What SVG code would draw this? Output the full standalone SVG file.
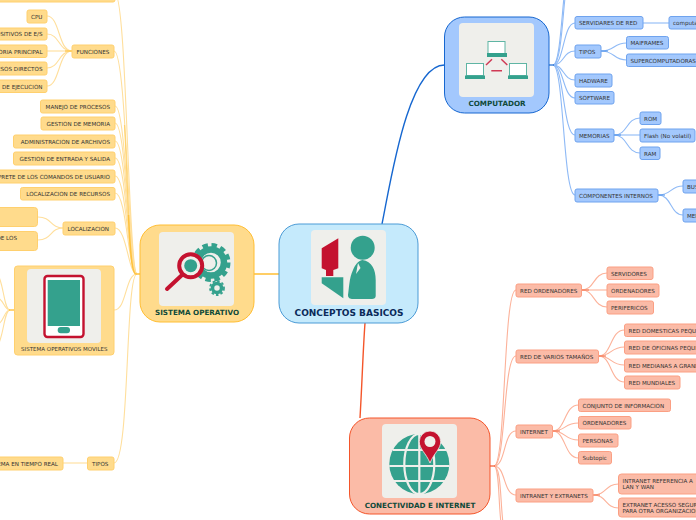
<svg xmlns="http://www.w3.org/2000/svg" width="696" height="520" viewBox="0 0 696 520">
<style>
text{font-family:"DejaVu Sans",Verdana,sans-serif;font-size:5.6px;fill:#333}
.c{fill:none;stroke-width:1.1}
.co{stroke:#ffdf9c}.cb{stroke:#8fbaf6}.cs{stroke:#fcb29a}
.o{fill:#ffdb8c;stroke:#ffd06e;stroke-width:1}
.b{fill:#a3c8fd;stroke:#6fa3ee;stroke-width:1}
.s{fill:#fbbba7;stroke:#fb9f83;stroke-width:1}
.ic{fill:#efefeb}
.t{fill:#34a18d}.r{fill:#c4122f}
.big{font-weight:bold;font-size:7.200px;fill:#0f4a3a;text-anchor:middle}
.e{text-anchor:end}
</style>
<g id="connectors">
<path class="c" style="stroke:#ffc23e;stroke-width:1.6" d="M254 274H279"/>
<path class="c" style="stroke:#1667d0;stroke-width:1.4" d="M382 224C391 180 408 65 444.500 65"/>
<path class="c" style="stroke:#f4552a;stroke-width:1.4" d="M365 323C363 350 362 385 360 418"/>
<path class="c co" d="M137 274C128 274 127 -6 115 -6"/>
<path class="c co" d="M137 274C128 274 127 51 114 51"/>
<path class="c co" d="M137 274C128 274 127 106 115 106"/>
<path class="c co" d="M137 274C128 274 127 123 115 123"/>
<path class="c co" d="M137 274C128 274 127 141 115 141"/>
<path class="c co" d="M137 274C128 274 127 158 115 158"/>
<path class="c co" d="M137 274C128 274 127 176 115 176"/>
<path class="c co" d="M137 274C128 274 127 193 115 193"/>
<path class="c co" d="M137 274C128 274 127 228 115 228"/>
<path class="c co" d="M137 274C125 274 127 310 114 310"/>
<path class="c co" d="M137 274C125 274 130 463 114 463"/>
<path class="c" style="stroke:#ffc23e;stroke-width:1.600" d="M140 274H136C132 274 130 250 128.500 215"/>
<path class="c" style="stroke:#ffd36f;stroke-width:1.200" d="M128.500 215C127.500 190 126 150 124.500 125"/>
<path class="c co" d="M72 51C58 51 60 16 47 16"/>
<path class="c co" d="M72 51C58 51 60 34 47 34"/>
<path class="c co" d="M72 51H47"/>
<path class="c co" d="M72 51C58 51 60 68 47 68"/>
<path class="c co" d="M72 51C58 51 60 86 47 86"/>
<path class="c" style="stroke:#ffc23e" d="M72 51H65"/>
<path class="c co" d="M63 228C50 228 52 217 38 217"/>
<path class="c co" d="M63 228C50 228 52 240 38 240"/>
<path class="c co" d="M87.500 463H63"/>
<path class="c co" d="M10 310C4 310 4 285 -2 275"/>
<path class="c co" d="M10 310C4 310 4 300 -2 298"/>
<path class="c co" d="M10 310C4 310 4 322 -2 324"/>
<path class="c co" d="M10 310C4 310 4 335 -2 345"/>
<path class="c" style="stroke:#ffc23e;stroke-width:1.4" d="M14.500 310H9"/>
<path class="c cb" d="M553 65C562 65 562 -20 570 -40"/>
<path class="c cb" d="M553 65C563 65 563 -10 568 -20"/>
<path class="c cb" d="M553 65C564 65 563 23 575 23"/>
<path class="c cb" d="M553 65C564 65 563 51 575 51"/>
<path class="c cb" d="M553 65C564 65 563 80 575 80"/>
<path class="c cb" d="M553 65C564 65 563 98 575 98"/>
<path class="c cb" d="M553 65C564 65 563 135 575 135"/>
<path class="c cb" d="M553 65C564 65 563 195 575 195"/>
<path class="c" style="stroke:#1667d0;stroke-width:1.200" d="M549 65H554"/>
<path class="c cb" d="M643 23H669"/>
<path class="c cb" d="M601 51C615 51 613 43 626.500 43"/>
<path class="c cb" d="M601 51C615 51 613 60 626.500 60"/>
<path class="c cb" d="M614 135C628 135 626 118 640 118"/>
<path class="c cb" d="M614 135H640"/>
<path class="c cb" d="M614 135C628 135 626 153 640 153"/>
<path class="c cb" d="M658 195C672 195 670 186 683 186"/>
<path class="c cb" d="M658 195C672 195 670 215 683 215"/>
<path class="c" style="stroke:#4c8fe8" d="M601 51H608M614 135H621M658 195H665"/>
<path class="c cs" d="M494 466C506 466 503 290 516 290"/>
<path class="c cs" d="M494 466C506 466 503 356 516 356"/>
<path class="c cs" d="M494 466C506 466 503 431 516 431"/>
<path class="c cs" d="M494 466C506 466 503 495 516 495"/>
<path class="c cs" d="M494 466C502 466 500 510 504 530"/>
<path class="c cs" d="M494 466C500 466 498 510 502 530"/>
<path class="c" style="stroke:#f4552a;stroke-width:1.2" d="M490 466H495"/>
<path class="c cs" d="M581.500 290C595 290 593 273 607 273"/>
<path class="c cs" d="M581.500 290H607"/>
<path class="c cs" d="M581.500 290C595 290 593 307 607 307"/>
<path class="c cs" d="M598.500 356C612 356 610 330 624.500 330"/>
<path class="c cs" d="M598.500 356C612 356 610 347 624.500 347"/>
<path class="c cs" d="M598.500 356C612 356 610 365 624.500 365"/>
<path class="c cs" d="M598.500 356C612 356 610 382 624.500 382"/>
<path class="c cs" d="M552.500 431C566 431 564 405 578.500 405"/>
<path class="c cs" d="M552.500 431C566 431 564 423 578.500 423"/>
<path class="c cs" d="M552.500 431C566 431 564 440 578.500 440"/>
<path class="c cs" d="M552.500 431C566 431 564 458 578.500 458"/>
<path class="c cs" d="M593 495C607 495 605 484 618.500 484"/>
<path class="c cs" d="M593 495C607 495 605 508 618.500 508"/>
<path class="c" style="stroke:#f4704a" d="M581.500 290H589M598.500 356H606M552.500 431H560M593 495H600"/>
</g>

<g id="n-concepts">
<rect x="279" y="224" width="139" height="99" rx="20" fill="#c5eafc" stroke="#4b9bd6"/>
<rect class="ic" x="311" y="230" width="75" height="75" rx="4"/>
<path class="r" d="M321.700 248.300L338.300 238.300V268.300L333.300 270V276H326V270L321.700 268.300Z"/>
<path class="t" d="M321.700 277.300H343.300V298.300L321.700 283.300Z"/>
<circle class="t" cx="362.700" cy="247.700" r="12"/>
<path class="t" d="M362.300 260C372 261 375.700 270 375.700 280V296C375.700 298 374 299 372 299H353C350 299 348 298 348 295C349 290 349 278 353 270C355 265 358 261 362.300 260Z"/>
<path d="M358 263L356 274L360.500 268Z" fill="#efefeb"/>
<text class="big" x="349" y="316" style="font-size:9px;fill:#0b2a5a">CONCEPTOS BASICOS</text>
</g>

<g id="n-sistema">
<rect x="140" y="225" width="114" height="97" rx="20" fill="#ffdb8c" stroke="#ffbe33"/>
<rect class="ic" x="159" y="232" width="75" height="74" rx="4"/>
<circle cx="211" cy="262.500" r="13" fill="none" stroke="#34a18d" stroke-width="6.500"/>
<circle cx="211" cy="262.500" r="17.500" fill="none" stroke="#34a18d" stroke-width="4" stroke-dasharray="5.500 3.660"/>
<circle cx="209" cy="263" r="7.500" fill="none" stroke="#34a18d" stroke-width="1.500"/>
<circle cx="217" cy="288" r="4.500" fill="none" stroke="#34a18d" stroke-width="3.500"/>
<circle cx="217" cy="288" r="7" fill="none" stroke="#34a18d" stroke-width="1.800" stroke-dasharray="2.600 2.100"/>
<circle cx="190.700" cy="265.700" r="11.500" fill="#efefeb" stroke="#c4122f" stroke-width="4"/>
<circle class="t" cx="190.700" cy="265.700" r="6.500"/>
<path d="M182 275L167 289" stroke="#c4122f" stroke-width="4" stroke-linecap="round"/>
<text class="big" x="197" y="315">SISTEMA OPERATIVO</text>
</g>

<g id="n-computador">
<rect x="444.500" y="17" width="104.500" height="96" rx="20" fill="#a3c8fd" stroke="#1667d0"/>
<rect class="ic" x="459" y="23" width="75" height="74" rx="4"/>
<g fill="#fff" stroke="#5fb5a4" stroke-width="1">
<rect x="488" y="41.500" width="17" height="12"/><rect x="466.500" y="63.500" width="17" height="12"/><rect x="509.500" y="63.500" width="17" height="12"/>
</g>
<rect class="t" x="487" y="53" width="20" height="4"/><rect class="t" x="465" y="75.500" width="20" height="3.500"/><rect class="t" x="508" y="75.500" width="20" height="3.500"/>
<path d="M486 65L492 59.300M507.300 65L501.300 59.300M491.300 70.700H502" stroke="#d03a55" stroke-width="1.500" fill="none"/>
<text class="big" x="497" y="106">COMPUTADOR</text>
</g>

<g id="n-conectividad">
<rect x="349.500" y="418" width="140.500" height="96" rx="20" fill="#fbbba7" stroke="#f4552a"/>
<rect class="ic" x="382" y="424" width="75" height="74" rx="4"/>
<circle class="t" cx="419.300" cy="464" r="30"/>
<g fill="none" stroke="#efefeb" stroke-width="2.200">
<ellipse cx="419.300" cy="464" rx="15" ry="30"/>
<path d="M419.300 434V494M389.300 466H449.300M393 450H446M393 481H446"/>
</g>
<path class="r" d="M430 463C426 453 419.300 449 419.300 441.700A10.700 10.700 0 0 1 440.700 441.700C440.700 449 434 453 430 463Z" stroke="#efefeb" stroke-width=".8"/>
<circle cx="430" cy="441.500" r="5.500" fill="#efefeb"/>
<text class="big" x="420" y="508">CONECTIVIDAD E INTERNET</text>
</g>

<g id="n-moviles">
<rect class="o" x="14.500" y="266" width="99.500" height="89" rx="3"/>
<rect class="ic" x="27" y="269" width="74" height="74" rx="4"/>
<rect x="44.500" y="276" width="39" height="61" rx="3" fill="#fff" stroke="#c4122f" stroke-width="2.400"/>
<rect class="t" x="47.700" y="280" width="32.300" height="46"/>
<rect class="t" x="57.700" y="327" width="12.300" height="6.300" rx="3"/>
<text x="64.300" y="351" text-anchor="middle" style="font-size:5.500px">SISTEMA OPERATIVOS MOVILES</text>
</g>

<g id="n-top"><rect class="o" x="-10" y="-12" width="125" height="14" rx="2"/></g>
<g id="n-funciones"><rect class="o" x="72" y="45" width="42" height="13" rx="2"/><text x="76.500" y="53.500">FUNCIONES</text></g>
<g id="n-cpu"><rect class="o" x="27" y="10" width="20" height="13" rx="2"/><text x="31" y="18.500">CPU</text></g>
<g id="n-dispositivos"><rect class="o" x="-20" y="28" width="67" height="12" rx="2"/><text class="e" x="42.500" y="36">DISPOSITIVOS DE E/S</text></g>
<g id="n-memoria"><rect class="o" x="-20" y="45" width="67" height="12.500" rx="2"/><text class="e" x="42.500" y="53.500">MEMORIA PRINCIPAL</text></g>
<g id="n-accesos"><rect class="o" x="-20" y="62" width="67" height="13" rx="2"/><text class="e" x="42.500" y="70.500">ACCESOS DIRECTOS</text></g>
<g id="n-ejecucion"><rect class="o" x="-20" y="80" width="67" height="12.500" rx="2"/><text class="e" x="42.500" y="88.500">DE EJECUCION</text></g>
<g id="n-procesos"><rect class="o" x="40.500" y="100" width="74.500" height="13" rx="2"/><text class="e" x="110" y="108.500">MANEJO DE PROCESOS</text></g>
<g id="n-gmemoria"><rect class="o" x="41" y="117" width="74" height="13" rx="2"/><text class="e" x="110" y="125.500">GESTION DE MEMORIA</text></g>
<g id="n-archivos"><rect class="o" x="13.500" y="135" width="101.500" height="13" rx="2"/><text class="e" x="110" y="143.500">ADMINISTRACION DE ARCHIVOS</text></g>
<g id="n-es"><rect class="o" x="13.500" y="152" width="101.500" height="13" rx="2"/><text class="e" x="110" y="160.500">GESTION DE ENTRADA Y SALIDA</text></g>
<g id="n-interprete"><rect class="o" x="-20" y="170" width="135" height="13" rx="2"/><text class="e" x="110" y="178.500">INTERPRETE DE LOS COMANDOS DE USUARIO</text></g>
<g id="n-recursos"><rect class="o" x="20.500" y="187.500" width="94.500" height="12.500" rx="2"/><text class="e" x="110" y="195.500">LOCALIZACION DE RECURSOS</text></g>
<g id="n-localizacion"><rect class="o" x="63" y="222" width="52" height="13" rx="2"/><text x="67.500" y="230.500">LOCALIZACION</text></g>
<g id="n-loc1"><rect class="o" x="-20" y="207.500" width="57.500" height="19" rx="3"/></g>
<g id="n-loc2"><rect class="o" x="-20" y="231.500" width="57.500" height="19" rx="3"/><text class="e" x="17" y="240">DE LOS</text></g>
<g id="n-tipos-so"><rect class="o" x="87.500" y="457" width="26.500" height="13" rx="2"/><text x="92" y="465.500">TIPOS</text></g>
<g id="n-tiempo"><rect class="o" x="-20" y="457" width="83" height="13" rx="2"/><text class="e" x="58" y="465.500">SISTEMA EN TIEMPO REAL</text></g>

<g id="n-servidares"><rect class="b" x="575" y="16.500" width="68" height="12.500" rx="2"/><text x="579" y="25">SERVIDARES DE RED</text></g>
<g id="n-computadoras"><rect class="b" x="669" y="16.500" width="50" height="12.500" rx="2"/><text x="673" y="25">computadoras</text></g>
<g id="n-tipos"><rect class="b" x="575" y="45" width="26" height="13" rx="2"/><text x="579" y="53.500">TIPOS</text></g>
<g id="n-maiframes"><rect class="b" x="626.500" y="36.500" width="42" height="12.500" rx="2"/><text x="630.500" y="45">MAIFRAMES</text></g>
<g id="n-super"><rect class="b" x="626.500" y="54" width="80" height="12.500" rx="2"/><text x="630.500" y="62.500">SUPERCOMPUTADORAS</text></g>
<g id="n-hadware"><rect class="b" x="575" y="74" width="37" height="13" rx="2"/><text x="579" y="82.500">HADWARE</text></g>
<g id="n-software"><rect class="b" x="575" y="91.500" width="39" height="12.500" rx="2"/><text x="579" y="100">SOFTWARE</text></g>
<g id="n-memorias"><rect class="b" x="575" y="129" width="39" height="13" rx="2"/><text x="579" y="137.500">MEMORIAS</text></g>
<g id="n-rom"><rect class="b" x="640" y="112" width="21" height="12.500" rx="2"/><text x="644" y="120.500">ROM</text></g>
<g id="n-flash"><rect class="b" x="640" y="129" width="55" height="13" rx="2"/><text x="644" y="137.500">Flash (No volatil)</text></g>
<g id="n-ram"><rect class="b" x="640" y="147" width="20" height="12.500" rx="2"/><text x="644" y="155.500">RAM</text></g>
<g id="n-componentes"><rect class="b" x="575" y="189" width="83" height="13" rx="2"/><text x="579" y="197.500">COMPONENTES INTERNOS</text></g>
<g id="n-bus"><rect class="b" x="683" y="180" width="30" height="13" rx="2"/><text x="687" y="188.500">BUS</text></g>
<g id="n-mem"><rect class="b" x="683" y="209" width="40" height="13" rx="2"/><text x="687" y="217.500">MEMORIA</text></g>

<g id="n-redord"><rect class="s" x="516" y="284" width="65.500" height="13" rx="2"/><text x="520" y="292.500">RED ORDENADORES</text></g>
<g id="n-servidores"><rect class="s" x="607" y="267" width="46" height="12.500" rx="2"/><text x="611" y="275.500">SERVIDORES</text></g>
<g id="n-ord1"><rect class="s" x="607" y="284" width="52" height="13" rx="2"/><text x="611" y="292.500">ORDENADORES</text></g>
<g id="n-perifericos"><rect class="s" x="607" y="301" width="46.500" height="13" rx="2"/><text x="611" y="309.500">PERIFERICOS</text></g>
<g id="n-redvar"><rect class="s" x="516" y="350" width="82.500" height="13" rx="2"/><text x="520" y="358.500">RED DE VARIOS TAMAÑOS</text></g>
<g id="n-reddom"><rect class="s" x="624.500" y="324" width="90" height="12.500" rx="2"/><text x="628.500" y="332.500">RED DOMESTICAS PEQUEÑAS</text></g>
<g id="n-redofi"><rect class="s" x="624.500" y="341" width="90" height="13" rx="2"/><text x="628.500" y="349.500">RED DE OFICINAS PEQUEÑAS</text></g>
<g id="n-redmed"><rect class="s" x="624.500" y="359" width="90" height="13" rx="2"/><text x="628.500" y="367.500">RED MEDIANAS A GRANDES</text></g>
<g id="n-redmun"><rect class="s" x="624.500" y="376" width="55.500" height="13" rx="2"/><text x="628.500" y="384.500">RED MUNDIALES</text></g>
<g id="n-internet"><rect class="s" x="516" y="425" width="36.500" height="13" rx="2"/><text x="520" y="433.500">INTERNET</text></g>
<g id="n-conjunto"><rect class="s" x="578.500" y="399" width="92" height="12.500" rx="2"/><text x="582.500" y="407.500">CONJUNTO DE INFORMACION</text></g>
<g id="n-ord2"><rect class="s" x="578.500" y="416.500" width="52.500" height="12.500" rx="2"/><text x="582.500" y="425">ORDENADORES</text></g>
<g id="n-personas"><rect class="s" x="578.500" y="434" width="39.500" height="13" rx="2"/><text x="582.500" y="442.500">PERSONAS</text></g>
<g id="n-subtopic"><rect class="s" x="578.500" y="451.500" width="33" height="12.500" rx="2"/><text x="582.500" y="460">Subtopic</text></g>
<g id="n-intra"><rect class="s" x="516" y="489" width="77" height="13" rx="2"/><text x="520" y="497.500">INTRANET Y EXTRANETS</text></g>
<g id="n-intra1"><rect class="s" x="618.500" y="474" width="100" height="20" rx="3"/><text x="622.500" y="482.500">INTRANET REFERENCIA A<tspan x="622.500" dy="6.200">LAN Y WAN</tspan></text></g>
<g id="n-extra1"><rect class="s" x="618.500" y="498" width="100" height="19" rx="3"/><text x="622.500" y="506.500">EXTRANET ACESSO SEGURO<tspan x="622.500" dy="6.200">PARA OTRA ORGANIZACION</tspan></text></g>
</svg>
